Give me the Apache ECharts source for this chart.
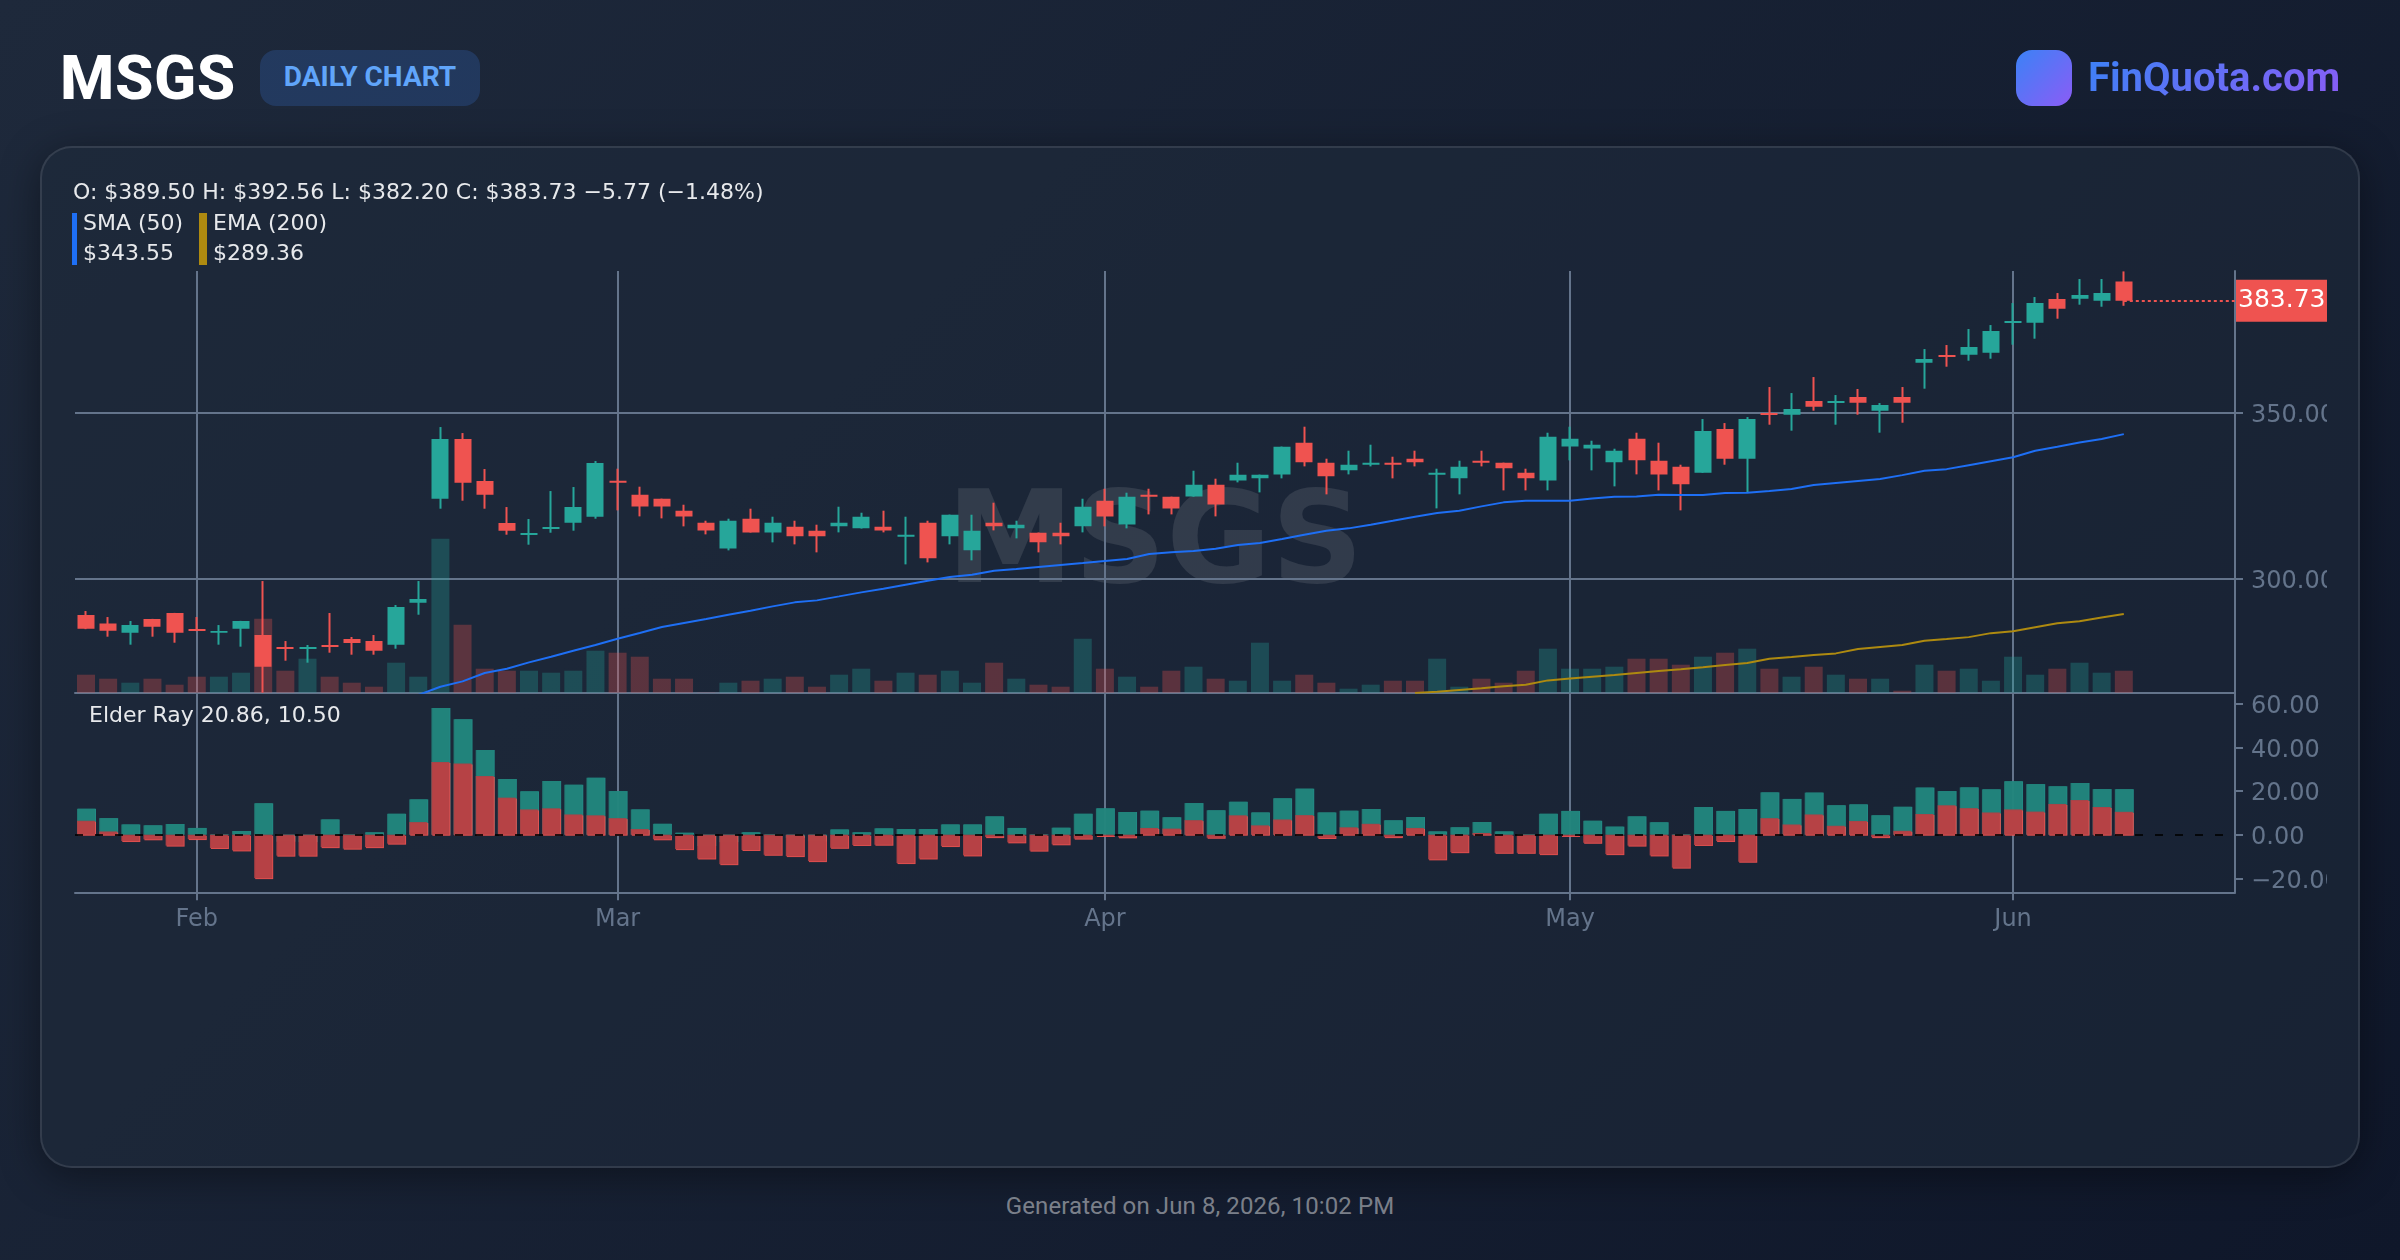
<!DOCTYPE html>
<html>
<head>
<meta charset="utf-8">
<title>MSGS Daily Chart</title>
<script src="https://cdn.jsdelivr.net/npm/echarts@6/dist/echarts.min.js"></script>
<style>
  html, body { margin: 0; padding: 0; width: 2400px; height: 1260px; overflow: hidden; }
  body { background: linear-gradient(135deg, #1e293b 0%, #0f172a 100%); font-family: Roboto, sans-serif; position: relative; }
  .ticker { position: absolute; left: 60px; top: 40px; font-size: 62px; line-height: 76px; font-weight: 800; color: #fff; letter-spacing: 0.6px; }
  .pill { position: absolute; left: 260px; top: 50px; width: 220px; height: 56px; border-radius: 16px; background: rgba(59,130,246,.2); color: #60a5fa; font-size: 28px; font-weight: 700; line-height: 54px; text-align: center; }
  .logo { position: absolute; left: 2016px; top: 50px; width: 56px; height: 56px; border-radius: 16px; background: linear-gradient(135deg, #3b82f6, #8b5cf6); }
  .brand { position: absolute; left: 2088px; top: 50px; font-size: 40px; line-height: 56px; font-weight: 700; background: linear-gradient(135deg, #3b82f6, #8b5cf6); -webkit-background-clip: text; background-clip: text; color: transparent; }
  .card { position: absolute; left: 40px; top: 146px; width: 2316px; height: 1018px; border: 2px solid rgba(255,255,255,.1); border-radius: 32px; background: rgba(30,41,59,.6); box-shadow: 0 8px 40px rgba(0,0,0,.4); }
  .footer { position: absolute; left: 0; width: 2400px; top: 1190px; text-align: center; font-size: 24px; line-height: 32px; letter-spacing: 0.1px; color: rgba(255,255,255,.45); }
  #chart { position: absolute; left: 0; top: 0; width: 2327px; height: 1000px; }
</style>
</head>
<body>
<div class="ticker">MSGS</div>
<div class="pill">DAILY CHART</div>
<div class="logo"></div>
<div class="brand">FinQuota.com</div>
<div class="card"></div>
<div class="footer">Generated on Jun 8, 2026, 10:02 PM</div>
<div id="chart"></div>
<script>
// Daily sessions from Jan 26 to Jun 8, 2026, one entry per session.
const opens = [289.05,286.54,283.73,287.85,289.66,284.84,283.73,284.94,283.03,279.42,278.81,280.02,281.83,281.22,280.12,292.77,324.09,342.07,329.41,316.76,313.15,314.96,316.86,318.67,329.51,325.30,324.09,320.48,316.86,309.13,318.07,313.95,315.66,314.45,315.76,315.16,315.66,312.65,316.86,312.75,308.53,316.86,315.16,313.85,313.85,315.76,323.49,316.36,325.30,324.69,324.79,328.31,329.61,330.22,331.42,340.96,334.93,332.63,334.33,334.93,336.14,331.32,330.22,335.54,334.93,331.92,329.61,339.85,339.25,335.04,342.16,335.54,333.73,331.92,345.08,336.14,349.90,349.39,353.51,352.91,354.72,350.60,354.72,365.06,367.37,367.47,368.07,377.00,377.11,384.23,384.33,383.73,389.50];
const closes = [284.94,284.34,286.04,285.54,283.73,284.23,284.23,287.25,273.49,278.81,279.42,279.42,280.62,278.31,291.46,293.87,342.07,328.91,325.30,314.46,313.75,315.56,321.58,334.84,328.91,321.78,321.78,318.77,314.55,317.46,313.95,316.86,312.75,312.75,316.86,318.67,314.55,313.25,306.12,319.27,314.45,315.76,316.26,310.94,312.75,321.68,318.77,324.69,324.69,321.18,328.31,322.38,331.32,331.32,339.75,335.04,330.82,334.33,334.93,334.33,335.04,331.92,333.73,334.93,333.23,330.22,342.77,342.16,340.36,338.55,335.64,331.42,328.41,344.47,336.14,348.09,349.29,351.10,351.80,353.51,353.01,352.31,353.01,366.16,366.76,369.78,374.59,377.61,383.03,381.32,385.44,386.04,383.73];
const lows = [284.80,282.53,280.12,282.53,280.72,284.20,280.12,279.52,265.66,275.30,274.70,277.71,277.11,277.11,278.91,289.15,321.08,323.49,321.08,313.25,310.24,313.85,314.46,318.07,320.58,318.77,318.17,315.76,313.35,308.53,313.90,310.94,310.34,307.93,313.95,315.10,313.95,304.31,304.91,310.34,305.52,314.55,312.14,307.93,310.34,313.95,315.76,315.16,319.37,319.37,324.70,318.77,329.01,326.00,330.22,333.83,325.40,331.42,333.83,330.22,333.83,321.18,325.40,333.83,326.60,326.60,326.60,335.64,332.63,327.81,331.42,326.60,320.58,331.90,334.33,326.00,346.38,344.58,350.60,346.38,349.39,343.98,346.98,357.23,363.85,365.66,366.26,370.48,372.29,378.31,382.53,381.92,382.20];
const highs = [290.26,288.45,287.25,287.90,289.70,288.45,286.04,287.30,299.29,281.22,280.02,289.66,282.43,283.03,292.07,299.29,345.68,343.87,333.03,321.58,317.97,326.40,327.61,335.44,333.13,327.71,324.10,322.28,317.46,318.07,321.08,318.67,317.46,316.26,321.68,319.87,320.48,318.67,317.46,319.30,319.27,322.89,317.46,313.90,316.86,324.09,327.10,325.90,327.10,324.70,332.52,330.12,334.93,331.35,339.80,345.78,336.14,338.55,340.36,336.74,338.55,333.13,335.54,338.55,334.95,333.13,343.97,345.78,341.56,339.15,343.97,340.96,334.33,348.09,346.88,348.69,357.73,355.92,360.74,355.32,357.13,352.91,357.73,369.17,370.38,375.20,376.40,383.03,384.84,386.04,390.26,390.26,392.56];
// Session volume, thousands of shares.
const volumes = [54,42,30,42,24,48,48,60,222,66,102,48,30,18,90,48,462,204,72,66,66,60,66,126,120,108,42,42,1,30,36,42,48,18,54,72,36,60,54,66,30,90,42,24,18,162,72,48,18,66,78,42,36,150,36,54,30,12,24,36,36,102,18,42,30,66,132,72,72,78,102,102,84,108,120,132,72,48,78,54,42,42,6,84,66,72,36,108,54,72,90,60,66];
const sma50 = [null,null,null,null,null,null,null,null,null,null,null,null,null,null,null,264.96,267.47,269.07,271.59,272.89,274.80,276.50,278.31,280.02,281.92,283.63,285.44,286.64,287.85,289.15,290.36,291.66,292.87,293.47,294.67,295.88,296.98,298.19,299.39,300.50,301.20,302.40,302.91,303.51,304.11,304.71,305.32,305.92,307.42,307.93,308.33,309.03,310.14,310.74,311.94,313.25,314.45,315.16,316.26,317.46,318.67,319.77,320.48,321.78,322.99,323.49,323.49,323.49,324.19,324.69,324.79,325.30,325.20,325.20,325.80,325.90,326.40,327.00,328.20,328.80,329.40,330.00,331.20,332.50,333.00,334.20,335.40,336.60,338.55,339.75,341.00,342.10,343.55];
const ema200 = [null,null,null,null,null,null,null,null,null,null,null,null,null,null,null,null,null,null,null,null,null,null,null,null,null,null,null,null,null,null,null,null,null,null,null,null,null,null,null,null,null,null,null,null,null,null,null,null,null,null,null,null,null,null,null,null,null,null,null,null,265.56,265.96,266.46,266.97,267.57,268.07,269.37,269.97,270.48,270.98,271.58,272.18,272.70,273.30,274.00,274.60,275.90,276.40,277.00,277.50,278.80,279.40,280.00,281.30,281.80,282.40,283.60,284.20,285.40,286.60,287.20,288.30,289.36];
const bullPower = [11.9,7.6,4.7,4.3,4.9,3.1,0.2,1.7,14.4,-3.2,-3.4,7.0,0.2,1.1,9.6,16.2,58.1,52.9,38.8,25.5,19.9,24.6,22.9,26.1,20.0,11.6,5.0,0.9,-5.2,-3.4,1.1,0.2,-1.5,-3.1,2.4,1.1,2.9,2.6,2.6,4.7,4.7,8.4,3.1,0.2,3.2,9.6,12.1,10.4,11.0,8.0,14.5,11.2,15.1,10.2,16.7,21.1,10.2,11.0,11.8,6.6,8.1,1.5,3.4,5.8,1.5,0.2,9.6,10.9,6.4,3.7,8.4,5.7,0.2,12.7,10.9,11.8,19.4,16.4,19.3,13.5,13.9,8.9,12.8,21.6,20.0,21.7,20.8,24.5,23.2,22.2,23.7,20.9,20.86];
const bearPower = [6.4,1.5,-2.9,-2.1,-5.0,-2.0,-6.1,-7.2,-19.9,-9.6,-9.6,-5.7,-6.4,-5.7,-4.1,5.8,33.3,32.6,26.9,17.0,11.6,12.1,9.3,8.9,7.6,2.6,-2.1,-6.6,-10.9,-13.5,-7.0,-9.2,-9.8,-12.1,-6.0,-4.7,-4.6,-13.0,-10.9,-5.2,-9.5,-1.1,-3.5,-7.3,-4.4,-1.8,-0.6,-1.2,3.1,2.8,6.7,-1.4,8.9,4.3,7.0,9.0,-1.5,3.4,5.0,-1.1,3.1,-11.3,-8.0,0.8,-8.3,-8.3,-8.9,-0.6,-3.7,-8.9,-5.0,-9.5,-15.1,-4.7,-2.9,-12.4,7.6,4.7,9.3,4.1,6.3,-1.1,1.8,9.5,13.5,12.2,10.2,11.6,10.6,14.1,15.9,12.7,10.50];
const monthTicks = [5, 24, 46, 67, 87];
const monthLabels = ['Feb', 'Mar', 'Apr', 'May', 'Jun'];
const priceTicks = [300, 350];
const elderTicks = [-20, 0, 20, 40, 60];
const lastClose = 383.73;

const UP = '#26a69a', DOWN = '#ef5350', GRID = '#64748b', LABEL = '#64748b';
const SMA_COLOR = '#1e6ff5', EMA_COLOR = '#ae8a10';
const FONT = '"DejaVu Sans", sans-serif';

// Pixels per session and the value range that puts session 0 just inside the left edge.
const sessionWidth = 22.15;
const plotWidth = 2160;
const xMin = -(86 - 75) / sessionWidth;
const xMax = xMin + plotWidth / sessionWidth;

const candles = opens.map((o, i) => [i, o, closes[i], lows[i], highs[i]]);
const volumeBars = volumes.map((v, i) => ({
  value: [i, v],
  itemStyle: { color: closes[i] >= opens[i] ? 'rgba(38,166,154,.3)' : 'rgba(239,83,80,.3)' }
}));
const pairs = a => a.map((v, i) => [i, v]);

const chart = echarts.init(document.getElementById('chart'), null, { renderer: 'canvas' });
const axisLine = { show: true, onZero: false, lineStyle: { color: GRID, width: 2 } };
const gridLine = { show: true, lineStyle: { color: GRID, width: 2, type: 'solid' } };
// Value-axis labels sit a little below their tick, so the text box carries top padding.
const tickRich = { t: { color: LABEL, fontFamily: FONT, fontSize: 24, padding: [6, 0, 0, 0] } };

const legendText = (text, x, y) => ({
  type: 'text', x, y, z: 10, silent: true,
  style: { text, fill: '#e7e9ec', font: `22px ${FONT}`, textVerticalAlign: 'middle' }
});

chart.setOption({
  animation: false,
  backgroundColor: 'transparent',
  grid: [
    { left: 75, top: 271, width: plotWidth, height: 421.7, outerBoundsMode: 'none' },
    { left: 75, top: 692.7, width: plotWidth, height: 199.6, outerBoundsMode: 'none' }
  ],
  xAxis: [
    { type: 'value', gridIndex: 0, min: xMin, max: xMax, axisLine,
      axisTick: { show: false, customValues: monthTicks },
      axisLabel: { show: false, customValues: monthTicks },
      splitLine: gridLine },
    { type: 'value', gridIndex: 1, min: xMin, max: xMax, axisLine,
      axisTick: { show: true, length: 8, lineStyle: { color: GRID, width: 2 }, customValues: monthTicks },
      axisLabel: { show: true, customValues: monthTicks, color: LABEL, fontFamily: FONT, fontSize: 24, margin: 15,
        formatter: v => monthLabels[monthTicks.indexOf(v)] },
      splitLine: gridLine }
  ],
  yAxis: [
    { type: 'value', gridIndex: 0, position: 'right', min: 265.66, max: 392.68, axisLine,
      axisTick: { show: true, length: 8, lineStyle: { color: GRID, width: 2 }, customValues: priceTicks },
      axisLabel: { show: true, customValues: priceTicks, margin: 16, rich: tickRich,
        formatter: v => `{t|${v.toFixed(2)}}` },
      splitLine: gridLine },
    { type: 'value', gridIndex: 0, show: false, min: 0, max: 1265, splitLine: { show: false } },
    { type: 'value', gridIndex: 1, position: 'right', min: -26.4, max: 65.1, axisLine,
      axisTick: { show: true, length: 8, lineStyle: { color: GRID, width: 2 }, customValues: elderTicks },
      axisLabel: { show: true, customValues: elderTicks, margin: 16, rich: tickRich,
        formatter: v => `{t|${v.toFixed(2).replace('-', '\u2212')}}` },
      splitLine: { show: false } }
  ],
  series: [
    { name: 'Volume', type: 'bar', xAxisIndex: 0, yAxisIndex: 1, barWidth: 18, data: volumeBars, z: 1 },
    { name: 'SMA (50)', type: 'line', xAxisIndex: 0, yAxisIndex: 0, data: pairs(sma50), showSymbol: false, smooth: false,
      connectNulls: false, lineStyle: { color: SMA_COLOR, width: 2 }, z: 5 },
    { name: 'EMA (200)', type: 'line', xAxisIndex: 0, yAxisIndex: 0, data: pairs(ema200), showSymbol: false, smooth: false,
      connectNulls: false, lineStyle: { color: EMA_COLOR, width: 2 }, z: 5 },
    // Wicks: a zero-width box leaves only the high-low stroke.
    { name: 'Wicks', type: 'candlestick', xAxisIndex: 0, yAxisIndex: 0, barWidth: 0, data: candles, z: 3,
      itemStyle: { color: UP, color0: DOWN, borderColor: UP, borderColor0: DOWN, borderColorDoji: UP, borderWidth: 2 } },
    // Bodies: filled open-close boxes with no outline.
    { name: 'MSGS', type: 'candlestick', xAxisIndex: 0, yAxisIndex: 0, barWidth: 17.5, data: candles, z: 4,
      itemStyle: { color: UP, color0: DOWN, borderWidth: 0 },
      markLine: {
        silent: true, symbol: 'none', animation: false,
        lineStyle: { color: DOWN, width: 2, type: [3, 3] },
        label: { show: true, position: 'end', distance: 1, formatter: lastClose.toFixed(2), color: '#fff', fontFamily: FONT, fontSize: 25,
          backgroundColor: DOWN, padding: [8, 2, 9, 2] },
        data: [[{ coord: [92, lastClose] }, { coord: [xMax, lastClose] }]]
      } },
    { name: 'Bull power', type: 'bar', xAxisIndex: 1, yAxisIndex: 2, barWidth: 18, barGap: '-100%', data: pairs(bullPower), z: 3,
      itemStyle: { color: 'rgba(34,130,122,.88)', shadowColor: 'rgba(38,166,154,.9)', shadowOffsetX: 1, shadowOffsetY: 0, shadowBlur: 0 } },
    { name: 'Bear power', type: 'bar', xAxisIndex: 1, yAxisIndex: 2, barWidth: 18, barGap: '-100%', data: pairs(bearPower), z: 4,
      itemStyle: { color: 'rgba(178,64,68,.92)', shadowColor: DOWN, shadowOffsetX: 1, shadowOffsetY: 1, shadowBlur: 0 },
      markLine: {
        silent: true, symbol: 'none', animation: false, z: 6,
        lineStyle: { color: 'rgba(0,0,0,.8)', width: 2, type: [8, 12] }, label: { show: false },
        data: [[{ coord: [xMin, 0] }, { coord: [xMax, 0] }]]
      } }
  ],
  graphic: { elements: [
    { type: 'text', x: 1155, y: 549, z: 0, silent: true,
      style: { text: 'MSGS', fill: 'rgba(255,255,255,.1)', font: `bold 128px ${FONT}`, textAlign: 'center', textVerticalAlign: 'middle' } },
    legendText('O: $389.50 H: $392.56 L: $382.20 C: $383.73 \u22125.77 (\u22121.48%)', 73, 193.5),
    { type: 'rect', z: 10, silent: true, shape: { x: 72, y: 213, width: 5, height: 52 }, style: { fill: SMA_COLOR } },
    legendText('SMA (50)', 83, 224.5),
    legendText('$343.55', 83, 254.5),
    { type: 'rect', z: 10, silent: true, shape: { x: 199, y: 213, width: 8, height: 52 }, style: { fill: EMA_COLOR } },
    legendText('EMA (200)', 213, 224.5),
    legendText('$289.36', 213, 254.5),
    legendText('Elder Ray 20.86, 10.50', 89, 716.5)
  ] }
});
</script>
</body>
</html>
